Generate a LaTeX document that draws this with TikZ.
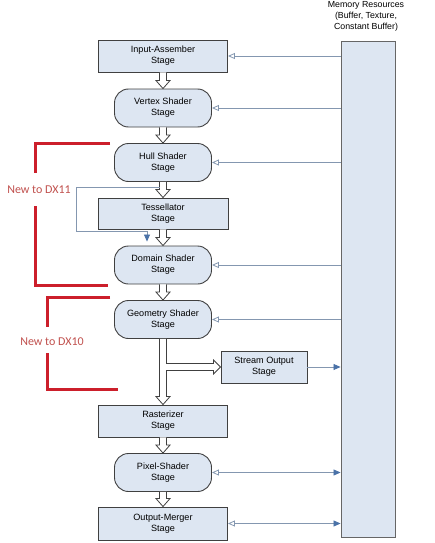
\documentclass[tikz,border=0pt]{standalone}
\usepackage{fontspec}
\setmainfont{Liberation Sans}
\newfontfamily\notefont{Carlito}
\usetikzlibrary{calc,arrows.meta}

\definecolor{boxfill}{HTML}{DDE6F2}
\definecolor{boxline}{HTML}{404040}
\definecolor{linkline}{HTML}{8497B0}
\definecolor{tipblue}{HTML}{4A72A8}
\definecolor{bracketred}{HTML}{CC1F2B}
\definecolor{notered}{HTML}{C0504D}

\tikzset{
	stagebox/.style={draw=boxline, fill=boxfill, line width=0.9pt, inner sep=0pt,
		minimum width=129pt, minimum height=32pt, align=center,
		font=\fontsize{9.1}{11}\selectfont},
	shaderbox/.style={stagebox, rounded corners=14pt, minimum width=97pt, minimum height=38pt},
	pipe/.style={draw=boxline, fill=white, line width=0.8pt, line join=miter},
	memline/.style={draw=linkline, line width=0.8pt},
	opentip/.style={-{Triangle[open, length=7pt, width=6pt]}},
	bluetip/.style={-{Triangle[color=tipblue, length=7pt, width=6pt]}},
	bothtip/.style={{Triangle[color=tipblue, length=7pt, width=6pt]}-{Triangle[open, length=7pt, width=6pt]}},
	bracket/.style={draw=bracketred, line width=3pt},
	note/.style={text=notered, font=\notefont\fontsize{12}{14}\selectfont},
}

% hollow pipe arrow between two stages
\newcommand\pipe[2]{%
	\draw[pipe] ($(#1.south)+(-3.5,0)$) -- ($(#2.north)+(-3.5,-8)$) -- ++(-3.5,0)
		-- (#2.north) -- ++(7,-8) -- ++(-3.5,0) -- ($(#1.south)+(3.5,0)$);
}

\begin{document}
\begin{tikzpicture}[x=1pt, y=-1pt]

% frame %{{{2

	\useasboundingbox (0,0) rectangle (435,543);

% stages %{{{2

	\node[stagebox]  (ia) at (163,56)    {Input-Assember\\Stage};
	\node[shaderbox] (vs) at (163,108)   {Vertex Shader\\Stage};
	\node[shaderbox] (hs) at (163,162.5) {Hull Shader\\Stage};
	\node[stagebox, minimum width=130pt, minimum height=31pt] (ts) at (163,213.5) {Tessellator\\Stage};
	\node[shaderbox] (ds) at (163,265)   {Domain Shader\\Stage};
	\node[shaderbox] (gs) at (163,319.5) {Geometry Shader\\Stage};
	\node[stagebox, minimum width=86pt] (so) at (264,367) {Stream Output\\Stage};
	\node[stagebox]  (rs) at (163,421)   {Rasterizer\\Stage};
	\node[shaderbox] (ps) at (163,472.5) {Pixel-Shader\\Stage};
	\node[stagebox, minimum height=33pt] (om) at (163,523.5) {Output-Merger\\Stage};

% memory %{{{2

	\node[stagebox, draw=boxline!80, minimum width=54pt, minimum height=496pt] (mem) at (368,289) {};
	\node[font=\fontsize{8.8}{11}\selectfont, align=center] (memlabel) at (366,16)
		{Memory Resources\\(Buffer, Texture,\\Constant Buffer)};

% pipes %{{{2

	\pipe{ia}{vs}
	\pipe{vs}{hs}
	\pipe{hs}{ts}
	\pipe{ts}{ds}
	\pipe{ds}{gs}
	\pipe{rs}{ps}
	\pipe{ps}{om}

	\draw[pipe] ($(gs.south)+(-3.5,0)$) -- ($(rs.north)+(-3.5,-8)$) -- ++(-3.5,0)
		-- (rs.north) -- ++(7,-8) -- ++(-3.5,0)
		-- ($(gs.south |- so.west)+(3.5,3.5)$) -- ($(so.west)+(-7,3.5)$) -- ++(0,3.5)
		-- (so.west) -- ++(-7,-7) -- ++(0,3.5)
		-- ($(gs.south |- so.west)+(3.5,-3.5)$) -- ($(gs.south)+(3.5,0)$);

% bypass %{{{2

	\coordinate (bypass) at ($(hs.south)+(-3.5,5)$);
	\draw[memline, bluetip] (bypass) -- ++(-83,0) |- ($(ds.north)+(-16,-14)$) -- ($(ds.north)+(-16,-4)$);

% memory links %{{{2

	\draw[memline, opentip] (mem.west |- ia.east) -- (ia.east);
	\draw[memline, opentip] (mem.west |- vs.east) -- (vs.east);
	\draw[memline, opentip] (mem.west |- hs.east) -- (hs.east);
	\draw[memline, opentip] (mem.west |- ds.east) -- (ds.east);
	\draw[memline, opentip] (mem.west |- gs.east) -- (gs.east);
	\draw[memline, bluetip] (so.east) -- (mem.west |- so.east);
	\draw[memline, bothtip] (mem.west |- ps.east) -- (ps.east);
	\draw[memline, bothtip] (mem.west |- om.east) -- (om.east);

% brackets %{{{2

	\draw[bracket] (110,143) -- (35,143) -- (35,173);
	\draw[bracket] (35,206) -- (35,285) -- (108,285);
	\node[note] (dx11) at (39,190) {New to DX11};

	\draw[bracket] (110,297) -- (47,297) -- (47,327);
	\draw[bracket] (47,353) -- (47,389) -- (118,389);
	\node[note] (dx10) at (52,342) {New to DX10};

% closing %{{{2

\end{tikzpicture}
\end{document}
